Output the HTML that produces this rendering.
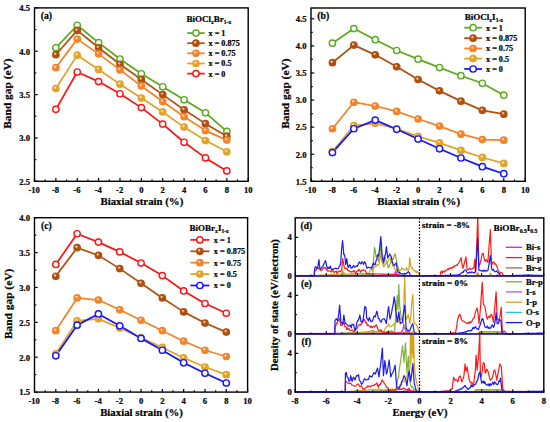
<!DOCTYPE html><html><head><meta charset="utf-8"><style>html,body{margin:0;padding:0;background:#fff;width:550px;height:422px;overflow:hidden}svg{display:block}text{stroke:#000;stroke-width:0.22px;paint-order:stroke}</style></head><body>
<svg width="550" height="422" viewBox="0 0 550 422" font-family='"Liberation Serif", serif' font-weight="bold" fill="#000">
<defs><radialGradient id="g0" cx="0.42" cy="0.40" r="0.6" fx="0.36" fy="0.32"><stop offset="0" stop-color="#fff" stop-opacity="0.85"/><stop offset="0.45" stop-color="#b0500e"/><stop offset="1" stop-color="#b0500e"/></radialGradient><radialGradient id="g1" cx="0.42" cy="0.40" r="0.6" fx="0.36" fy="0.32"><stop offset="0" stop-color="#fff" stop-opacity="0.85"/><stop offset="0.45" stop-color="#f5832a"/><stop offset="1" stop-color="#f5832a"/></radialGradient><radialGradient id="g2" cx="0.42" cy="0.40" r="0.6" fx="0.36" fy="0.32"><stop offset="0" stop-color="#fff" stop-opacity="0.85"/><stop offset="0.45" stop-color="#e3a327"/><stop offset="1" stop-color="#e3a327"/></radialGradient></defs>
<rect x="0" y="0" width="550" height="422" fill="#fff"/>
<rect x="34.5" y="7.9" width="213.7" height="173.4" fill="none" stroke="#000" stroke-width="1.4"/>
<line x1="34.5" y1="181.3" x2="34.5" y2="178.1" stroke="#000" stroke-width="1.2"/>
<text x="34.2" y="192.7" font-size="8.6" text-anchor="middle" >-10</text>
<line x1="45.19" y1="181.3" x2="45.19" y2="179.5" stroke="#000" stroke-width="1.2"/>
<line x1="55.87" y1="181.3" x2="55.87" y2="178.1" stroke="#000" stroke-width="1.2"/>
<text x="55.57" y="192.7" font-size="8.6" text-anchor="middle" >-8</text>
<line x1="66.55" y1="181.3" x2="66.55" y2="179.5" stroke="#000" stroke-width="1.2"/>
<line x1="77.24" y1="181.3" x2="77.24" y2="178.1" stroke="#000" stroke-width="1.2"/>
<text x="76.94" y="192.7" font-size="8.6" text-anchor="middle" >-6</text>
<line x1="87.92" y1="181.3" x2="87.92" y2="179.5" stroke="#000" stroke-width="1.2"/>
<line x1="98.61" y1="181.3" x2="98.61" y2="178.1" stroke="#000" stroke-width="1.2"/>
<text x="98.31" y="192.7" font-size="8.6" text-anchor="middle" >-4</text>
<line x1="109.29" y1="181.3" x2="109.29" y2="179.5" stroke="#000" stroke-width="1.2"/>
<line x1="119.98" y1="181.3" x2="119.98" y2="178.1" stroke="#000" stroke-width="1.2"/>
<text x="119.68" y="192.7" font-size="8.6" text-anchor="middle" >-2</text>
<line x1="130.66" y1="181.3" x2="130.66" y2="179.5" stroke="#000" stroke-width="1.2"/>
<line x1="141.35" y1="181.3" x2="141.35" y2="178.1" stroke="#000" stroke-width="1.2"/>
<text x="141.35" y="192.7" font-size="8.6" text-anchor="middle" >0</text>
<line x1="152.03" y1="181.3" x2="152.03" y2="179.5" stroke="#000" stroke-width="1.2"/>
<line x1="162.72" y1="181.3" x2="162.72" y2="178.1" stroke="#000" stroke-width="1.2"/>
<text x="162.72" y="192.7" font-size="8.6" text-anchor="middle" >2</text>
<line x1="173.4" y1="181.3" x2="173.4" y2="179.5" stroke="#000" stroke-width="1.2"/>
<line x1="184.09" y1="181.3" x2="184.09" y2="178.1" stroke="#000" stroke-width="1.2"/>
<text x="184.09" y="192.7" font-size="8.6" text-anchor="middle" >4</text>
<line x1="194.77" y1="181.3" x2="194.77" y2="179.5" stroke="#000" stroke-width="1.2"/>
<line x1="205.46" y1="181.3" x2="205.46" y2="178.1" stroke="#000" stroke-width="1.2"/>
<text x="205.46" y="192.7" font-size="8.6" text-anchor="middle" >6</text>
<line x1="216.14" y1="181.3" x2="216.14" y2="179.5" stroke="#000" stroke-width="1.2"/>
<line x1="226.83" y1="181.3" x2="226.83" y2="178.1" stroke="#000" stroke-width="1.2"/>
<text x="226.83" y="192.7" font-size="8.6" text-anchor="middle" >8</text>
<line x1="237.51" y1="181.3" x2="237.51" y2="179.5" stroke="#000" stroke-width="1.2"/>
<line x1="248.2" y1="181.3" x2="248.2" y2="178.1" stroke="#000" stroke-width="1.2"/>
<text x="248.2" y="192.7" font-size="8.6" text-anchor="middle" >10</text>
<line x1="34.5" y1="181.3" x2="37.7" y2="181.3" stroke="#000" stroke-width="1.2"/>
<text x="30" y="184.6" font-size="8.6" text-anchor="end" >2.5</text>
<line x1="34.5" y1="137.95" x2="37.7" y2="137.95" stroke="#000" stroke-width="1.2"/>
<text x="30" y="141.25" font-size="8.6" text-anchor="end" >3.0</text>
<line x1="34.5" y1="94.6" x2="37.7" y2="94.6" stroke="#000" stroke-width="1.2"/>
<text x="30" y="97.9" font-size="8.6" text-anchor="end" >3.5</text>
<line x1="34.5" y1="51.25" x2="37.7" y2="51.25" stroke="#000" stroke-width="1.2"/>
<text x="30" y="54.55" font-size="8.6" text-anchor="end" >4.0</text>
<line x1="34.5" y1="7.9" x2="37.7" y2="7.9" stroke="#000" stroke-width="1.2"/>
<text x="30" y="11.2" font-size="8.6" text-anchor="end" >4.5</text>
<line x1="34.5" y1="159.62" x2="36.3" y2="159.62" stroke="#000" stroke-width="1.2"/>
<line x1="34.5" y1="116.28" x2="36.3" y2="116.28" stroke="#000" stroke-width="1.2"/>
<line x1="34.5" y1="72.93" x2="36.3" y2="72.93" stroke="#000" stroke-width="1.2"/>
<line x1="34.5" y1="29.58" x2="36.3" y2="29.58" stroke="#000" stroke-width="1.2"/>
<text x="141.85" y="204.9" font-size="10.8" text-anchor="middle" >Biaxial strain (%)</text>
<text x="0" y="0" font-size="11.4" text-anchor="middle" transform="translate(11,93.6) rotate(-90)">Band gap (eV)</text>
<text x="40.7" y="19" font-size="9.8" text-anchor="start" >(a)</text>
<polyline points="55.87,47.78 77.24,25.24 98.61,42.58 119.98,59.05 141.35,73.79 162.72,86.8 184.09,99.8 205.46,112.81 226.83,131.45" fill="none" stroke="#5aab1c" stroke-width="1.75" stroke-linejoin="round"/>
<polyline points="55.87,54.72 77.24,30.44 98.61,47.78 119.98,64.25 141.35,79.43 162.72,94.6 184.09,109.77 205.46,123.64 226.83,136.22" fill="none" stroke="#b0500e" stroke-width="1.75" stroke-linejoin="round"/>
<polyline points="55.87,67.72 77.24,39.11 98.61,53.85 119.98,69.89 141.35,85.93 162.72,101.54 184.09,116.71 205.46,130.58 226.83,140.12" fill="none" stroke="#f5832a" stroke-width="1.75" stroke-linejoin="round"/>
<polyline points="55.87,88.53 77.24,55.15 98.61,69.46 119.98,84.2 141.35,98.07 162.72,111.94 184.09,127.11 205.46,140.55 226.83,151.82" fill="none" stroke="#e3a327" stroke-width="1.75" stroke-linejoin="round"/>
<polyline points="55.87,109.34 77.24,72.06 98.61,81.6 119.98,93.73 141.35,107.61 162.72,124.08 184.09,142.28 205.46,157.89 226.83,170.9" fill="none" stroke="#ff1414" stroke-width="1.75" stroke-linejoin="round"/>
<circle cx="55.87" cy="47.78" r="3.15" fill="#fff" stroke="#5aab1c" stroke-width="1.4"/>
<circle cx="77.24" cy="25.24" r="3.15" fill="#fff" stroke="#5aab1c" stroke-width="1.4"/>
<circle cx="98.61" cy="42.58" r="3.15" fill="#fff" stroke="#5aab1c" stroke-width="1.4"/>
<circle cx="119.98" cy="59.05" r="3.15" fill="#fff" stroke="#5aab1c" stroke-width="1.4"/>
<circle cx="141.35" cy="73.79" r="3.15" fill="#fff" stroke="#5aab1c" stroke-width="1.4"/>
<circle cx="162.72" cy="86.8" r="3.15" fill="#fff" stroke="#5aab1c" stroke-width="1.4"/>
<circle cx="184.09" cy="99.8" r="3.15" fill="#fff" stroke="#5aab1c" stroke-width="1.4"/>
<circle cx="205.46" cy="112.81" r="3.15" fill="#fff" stroke="#5aab1c" stroke-width="1.4"/>
<circle cx="226.83" cy="131.45" r="3.15" fill="#fff" stroke="#5aab1c" stroke-width="1.4"/>
<circle cx="55.87" cy="54.72" r="3.15" fill="url(#g0)" stroke="#b0500e" stroke-width="1.4"/>
<circle cx="77.24" cy="30.44" r="3.15" fill="url(#g0)" stroke="#b0500e" stroke-width="1.4"/>
<circle cx="98.61" cy="47.78" r="3.15" fill="url(#g0)" stroke="#b0500e" stroke-width="1.4"/>
<circle cx="119.98" cy="64.25" r="3.15" fill="url(#g0)" stroke="#b0500e" stroke-width="1.4"/>
<circle cx="141.35" cy="79.43" r="3.15" fill="url(#g0)" stroke="#b0500e" stroke-width="1.4"/>
<circle cx="162.72" cy="94.6" r="3.15" fill="url(#g0)" stroke="#b0500e" stroke-width="1.4"/>
<circle cx="184.09" cy="109.77" r="3.15" fill="url(#g0)" stroke="#b0500e" stroke-width="1.4"/>
<circle cx="205.46" cy="123.64" r="3.15" fill="url(#g0)" stroke="#b0500e" stroke-width="1.4"/>
<circle cx="226.83" cy="136.22" r="3.15" fill="url(#g0)" stroke="#b0500e" stroke-width="1.4"/>
<circle cx="55.87" cy="67.72" r="3.15" fill="url(#g1)" stroke="#f5832a" stroke-width="1.4"/>
<circle cx="77.24" cy="39.11" r="3.15" fill="url(#g1)" stroke="#f5832a" stroke-width="1.4"/>
<circle cx="98.61" cy="53.85" r="3.15" fill="url(#g1)" stroke="#f5832a" stroke-width="1.4"/>
<circle cx="119.98" cy="69.89" r="3.15" fill="url(#g1)" stroke="#f5832a" stroke-width="1.4"/>
<circle cx="141.35" cy="85.93" r="3.15" fill="url(#g1)" stroke="#f5832a" stroke-width="1.4"/>
<circle cx="162.72" cy="101.54" r="3.15" fill="url(#g1)" stroke="#f5832a" stroke-width="1.4"/>
<circle cx="184.09" cy="116.71" r="3.15" fill="url(#g1)" stroke="#f5832a" stroke-width="1.4"/>
<circle cx="205.46" cy="130.58" r="3.15" fill="url(#g1)" stroke="#f5832a" stroke-width="1.4"/>
<circle cx="226.83" cy="140.12" r="3.15" fill="url(#g1)" stroke="#f5832a" stroke-width="1.4"/>
<circle cx="55.87" cy="88.53" r="3.15" fill="url(#g2)" stroke="#e3a327" stroke-width="1.4"/>
<circle cx="77.24" cy="55.15" r="3.15" fill="url(#g2)" stroke="#e3a327" stroke-width="1.4"/>
<circle cx="98.61" cy="69.46" r="3.15" fill="url(#g2)" stroke="#e3a327" stroke-width="1.4"/>
<circle cx="119.98" cy="84.2" r="3.15" fill="url(#g2)" stroke="#e3a327" stroke-width="1.4"/>
<circle cx="141.35" cy="98.07" r="3.15" fill="url(#g2)" stroke="#e3a327" stroke-width="1.4"/>
<circle cx="162.72" cy="111.94" r="3.15" fill="url(#g2)" stroke="#e3a327" stroke-width="1.4"/>
<circle cx="184.09" cy="127.11" r="3.15" fill="url(#g2)" stroke="#e3a327" stroke-width="1.4"/>
<circle cx="205.46" cy="140.55" r="3.15" fill="url(#g2)" stroke="#e3a327" stroke-width="1.4"/>
<circle cx="226.83" cy="151.82" r="3.15" fill="url(#g2)" stroke="#e3a327" stroke-width="1.4"/>
<circle cx="55.87" cy="109.34" r="3.15" fill="#fff" stroke="#ff1414" stroke-width="1.4"/>
<circle cx="77.24" cy="72.06" r="3.15" fill="#fff" stroke="#ff1414" stroke-width="1.4"/>
<circle cx="98.61" cy="81.6" r="3.15" fill="#fff" stroke="#ff1414" stroke-width="1.4"/>
<circle cx="119.98" cy="93.73" r="3.15" fill="#fff" stroke="#ff1414" stroke-width="1.4"/>
<circle cx="141.35" cy="107.61" r="3.15" fill="#fff" stroke="#ff1414" stroke-width="1.4"/>
<circle cx="162.72" cy="124.08" r="3.15" fill="#fff" stroke="#ff1414" stroke-width="1.4"/>
<circle cx="184.09" cy="142.28" r="3.15" fill="#fff" stroke="#ff1414" stroke-width="1.4"/>
<circle cx="205.46" cy="157.89" r="3.15" fill="#fff" stroke="#ff1414" stroke-width="1.4"/>
<circle cx="226.83" cy="170.9" r="3.15" fill="#fff" stroke="#ff1414" stroke-width="1.4"/>
<text x="186.5" y="22.2" font-size="9" text-anchor="start">BiOCl<tspan font-size="5.6" dy="2.0">x</tspan><tspan dy="-2.0">Br</tspan><tspan font-size="5.6" dy="2.0">1-x</tspan></text>
<line x1="187.2" y1="33.1" x2="204.7" y2="33.1" stroke="#5aab1c" stroke-width="1.75"/>
<circle cx="195.95" cy="33.1" r="3.15" fill="#fff" stroke="#5aab1c" stroke-width="1.4"/>
<text x="208.5" y="36" font-size="8.2" text-anchor="start" >x = 1</text>
<line x1="187.2" y1="43.2" x2="204.7" y2="43.2" stroke="#b0500e" stroke-width="1.75"/>
<circle cx="195.95" cy="43.2" r="3.15" fill="url(#g0)" stroke="#b0500e" stroke-width="1.4"/>
<text x="208.5" y="46.1" font-size="8.2" text-anchor="start" >x = 0.875</text>
<line x1="187.2" y1="53.3" x2="204.7" y2="53.3" stroke="#f5832a" stroke-width="1.75"/>
<circle cx="195.95" cy="53.3" r="3.15" fill="url(#g1)" stroke="#f5832a" stroke-width="1.4"/>
<text x="208.5" y="56.2" font-size="8.2" text-anchor="start" >x = 0.75</text>
<line x1="187.2" y1="63.5" x2="204.7" y2="63.5" stroke="#e3a327" stroke-width="1.75"/>
<circle cx="195.95" cy="63.5" r="3.15" fill="url(#g2)" stroke="#e3a327" stroke-width="1.4"/>
<text x="208.5" y="66.4" font-size="8.2" text-anchor="start" >x = 0.5</text>
<line x1="187.2" y1="73.6" x2="204.7" y2="73.6" stroke="#ff1414" stroke-width="1.75"/>
<circle cx="195.95" cy="73.6" r="3.15" fill="#fff" stroke="#ff1414" stroke-width="1.4"/>
<text x="208.5" y="76.5" font-size="8.2" text-anchor="start" >x = 0</text>
<rect x="311" y="8" width="214.2" height="173.3" fill="none" stroke="#000" stroke-width="1.4"/>
<line x1="311" y1="181.3" x2="311" y2="178.1" stroke="#000" stroke-width="1.2"/>
<text x="310.7" y="192.7" font-size="8.6" text-anchor="middle" >-10</text>
<line x1="321.71" y1="181.3" x2="321.71" y2="179.5" stroke="#000" stroke-width="1.2"/>
<line x1="332.42" y1="181.3" x2="332.42" y2="178.1" stroke="#000" stroke-width="1.2"/>
<text x="332.12" y="192.7" font-size="8.6" text-anchor="middle" >-8</text>
<line x1="343.13" y1="181.3" x2="343.13" y2="179.5" stroke="#000" stroke-width="1.2"/>
<line x1="353.84" y1="181.3" x2="353.84" y2="178.1" stroke="#000" stroke-width="1.2"/>
<text x="353.54" y="192.7" font-size="8.6" text-anchor="middle" >-6</text>
<line x1="364.55" y1="181.3" x2="364.55" y2="179.5" stroke="#000" stroke-width="1.2"/>
<line x1="375.26" y1="181.3" x2="375.26" y2="178.1" stroke="#000" stroke-width="1.2"/>
<text x="374.96" y="192.7" font-size="8.6" text-anchor="middle" >-4</text>
<line x1="385.97" y1="181.3" x2="385.97" y2="179.5" stroke="#000" stroke-width="1.2"/>
<line x1="396.68" y1="181.3" x2="396.68" y2="178.1" stroke="#000" stroke-width="1.2"/>
<text x="396.38" y="192.7" font-size="8.6" text-anchor="middle" >-2</text>
<line x1="407.39" y1="181.3" x2="407.39" y2="179.5" stroke="#000" stroke-width="1.2"/>
<line x1="418.1" y1="181.3" x2="418.1" y2="178.1" stroke="#000" stroke-width="1.2"/>
<text x="418.1" y="192.7" font-size="8.6" text-anchor="middle" >0</text>
<line x1="428.81" y1="181.3" x2="428.81" y2="179.5" stroke="#000" stroke-width="1.2"/>
<line x1="439.52" y1="181.3" x2="439.52" y2="178.1" stroke="#000" stroke-width="1.2"/>
<text x="439.52" y="192.7" font-size="8.6" text-anchor="middle" >2</text>
<line x1="450.23" y1="181.3" x2="450.23" y2="179.5" stroke="#000" stroke-width="1.2"/>
<line x1="460.94" y1="181.3" x2="460.94" y2="178.1" stroke="#000" stroke-width="1.2"/>
<text x="460.94" y="192.7" font-size="8.6" text-anchor="middle" >4</text>
<line x1="471.65" y1="181.3" x2="471.65" y2="179.5" stroke="#000" stroke-width="1.2"/>
<line x1="482.36" y1="181.3" x2="482.36" y2="178.1" stroke="#000" stroke-width="1.2"/>
<text x="482.36" y="192.7" font-size="8.6" text-anchor="middle" >6</text>
<line x1="493.07" y1="181.3" x2="493.07" y2="179.5" stroke="#000" stroke-width="1.2"/>
<line x1="503.78" y1="181.3" x2="503.78" y2="178.1" stroke="#000" stroke-width="1.2"/>
<text x="503.78" y="192.7" font-size="8.6" text-anchor="middle" >8</text>
<line x1="514.49" y1="181.3" x2="514.49" y2="179.5" stroke="#000" stroke-width="1.2"/>
<line x1="525.2" y1="181.3" x2="525.2" y2="178.1" stroke="#000" stroke-width="1.2"/>
<text x="525.2" y="192.7" font-size="8.6" text-anchor="middle" >10</text>
<line x1="311" y1="181.3" x2="314.2" y2="181.3" stroke="#000" stroke-width="1.2"/>
<text x="306.5" y="184.6" font-size="8.6" text-anchor="end" >1.5</text>
<line x1="311" y1="154.22" x2="314.2" y2="154.22" stroke="#000" stroke-width="1.2"/>
<text x="306.5" y="157.52" font-size="8.6" text-anchor="end" >2.0</text>
<line x1="311" y1="127.14" x2="314.2" y2="127.14" stroke="#000" stroke-width="1.2"/>
<text x="306.5" y="130.44" font-size="8.6" text-anchor="end" >2.5</text>
<line x1="311" y1="100.07" x2="314.2" y2="100.07" stroke="#000" stroke-width="1.2"/>
<text x="306.5" y="103.37" font-size="8.6" text-anchor="end" >3.0</text>
<line x1="311" y1="72.99" x2="314.2" y2="72.99" stroke="#000" stroke-width="1.2"/>
<text x="306.5" y="76.29" font-size="8.6" text-anchor="end" >3.5</text>
<line x1="311" y1="45.91" x2="314.2" y2="45.91" stroke="#000" stroke-width="1.2"/>
<text x="306.5" y="49.21" font-size="8.6" text-anchor="end" >4.0</text>
<line x1="311" y1="18.83" x2="314.2" y2="18.83" stroke="#000" stroke-width="1.2"/>
<text x="306.5" y="22.13" font-size="8.6" text-anchor="end" >4.5</text>
<line x1="311" y1="167.76" x2="312.8" y2="167.76" stroke="#000" stroke-width="1.2"/>
<line x1="311" y1="140.68" x2="312.8" y2="140.68" stroke="#000" stroke-width="1.2"/>
<line x1="311" y1="113.6" x2="312.8" y2="113.6" stroke="#000" stroke-width="1.2"/>
<line x1="311" y1="86.53" x2="312.8" y2="86.53" stroke="#000" stroke-width="1.2"/>
<line x1="311" y1="59.45" x2="312.8" y2="59.45" stroke="#000" stroke-width="1.2"/>
<line x1="311" y1="32.37" x2="312.8" y2="32.37" stroke="#000" stroke-width="1.2"/>
<text x="418.6" y="204.9" font-size="10.8" text-anchor="middle" >Biaxial strain (%)</text>
<text x="0" y="0" font-size="11.4" text-anchor="middle" transform="translate(289.2,93.65) rotate(-90)">Band gap (eV)</text>
<text x="317.2" y="19" font-size="9.8" text-anchor="start" >(b)</text>
<polyline points="332.42,43.2 353.84,28.58 375.26,39.68 396.68,50.51 418.1,59.18 439.52,67.57 460.94,75.7 482.36,83.28 503.78,95.19" fill="none" stroke="#5aab1c" stroke-width="1.75" stroke-linejoin="round"/>
<polyline points="332.42,62.7 353.84,45.1 375.26,54.85 396.68,66.76 418.1,79.49 439.52,90.86 460.94,101.15 482.36,110.36 503.78,114.15" fill="none" stroke="#b0500e" stroke-width="1.75" stroke-linejoin="round"/>
<polyline points="332.42,128.77 353.84,102.23 375.26,106.02 396.68,111.44 418.1,119.02 439.52,126.06 460.94,134.18 482.36,139.6 503.78,140.14" fill="none" stroke="#f5832a" stroke-width="1.75" stroke-linejoin="round"/>
<polyline points="332.42,151.51 353.84,125.52 375.26,123.35 396.68,128.77 418.1,136.35 439.52,142.85 460.94,150.43 482.36,157.47 503.78,163.43" fill="none" stroke="#e3a327" stroke-width="1.75" stroke-linejoin="round"/>
<polyline points="332.42,152.6 353.84,128.77 375.26,120.1 396.68,129.31 418.1,139.06 439.52,148.81 460.94,158.01 482.36,166.68 503.78,173.72" fill="none" stroke="#1414ff" stroke-width="1.75" stroke-linejoin="round"/>
<circle cx="332.42" cy="43.2" r="3.15" fill="#fff" stroke="#5aab1c" stroke-width="1.4"/>
<circle cx="353.84" cy="28.58" r="3.15" fill="#fff" stroke="#5aab1c" stroke-width="1.4"/>
<circle cx="375.26" cy="39.68" r="3.15" fill="#fff" stroke="#5aab1c" stroke-width="1.4"/>
<circle cx="396.68" cy="50.51" r="3.15" fill="#fff" stroke="#5aab1c" stroke-width="1.4"/>
<circle cx="418.1" cy="59.18" r="3.15" fill="#fff" stroke="#5aab1c" stroke-width="1.4"/>
<circle cx="439.52" cy="67.57" r="3.15" fill="#fff" stroke="#5aab1c" stroke-width="1.4"/>
<circle cx="460.94" cy="75.7" r="3.15" fill="#fff" stroke="#5aab1c" stroke-width="1.4"/>
<circle cx="482.36" cy="83.28" r="3.15" fill="#fff" stroke="#5aab1c" stroke-width="1.4"/>
<circle cx="503.78" cy="95.19" r="3.15" fill="#fff" stroke="#5aab1c" stroke-width="1.4"/>
<circle cx="332.42" cy="62.7" r="3.15" fill="url(#g0)" stroke="#b0500e" stroke-width="1.4"/>
<circle cx="353.84" cy="45.1" r="3.15" fill="url(#g0)" stroke="#b0500e" stroke-width="1.4"/>
<circle cx="375.26" cy="54.85" r="3.15" fill="url(#g0)" stroke="#b0500e" stroke-width="1.4"/>
<circle cx="396.68" cy="66.76" r="3.15" fill="url(#g0)" stroke="#b0500e" stroke-width="1.4"/>
<circle cx="418.1" cy="79.49" r="3.15" fill="url(#g0)" stroke="#b0500e" stroke-width="1.4"/>
<circle cx="439.52" cy="90.86" r="3.15" fill="url(#g0)" stroke="#b0500e" stroke-width="1.4"/>
<circle cx="460.94" cy="101.15" r="3.15" fill="url(#g0)" stroke="#b0500e" stroke-width="1.4"/>
<circle cx="482.36" cy="110.36" r="3.15" fill="url(#g0)" stroke="#b0500e" stroke-width="1.4"/>
<circle cx="503.78" cy="114.15" r="3.15" fill="url(#g0)" stroke="#b0500e" stroke-width="1.4"/>
<circle cx="332.42" cy="128.77" r="3.15" fill="url(#g1)" stroke="#f5832a" stroke-width="1.4"/>
<circle cx="353.84" cy="102.23" r="3.15" fill="url(#g1)" stroke="#f5832a" stroke-width="1.4"/>
<circle cx="375.26" cy="106.02" r="3.15" fill="url(#g1)" stroke="#f5832a" stroke-width="1.4"/>
<circle cx="396.68" cy="111.44" r="3.15" fill="url(#g1)" stroke="#f5832a" stroke-width="1.4"/>
<circle cx="418.1" cy="119.02" r="3.15" fill="url(#g1)" stroke="#f5832a" stroke-width="1.4"/>
<circle cx="439.52" cy="126.06" r="3.15" fill="url(#g1)" stroke="#f5832a" stroke-width="1.4"/>
<circle cx="460.94" cy="134.18" r="3.15" fill="url(#g1)" stroke="#f5832a" stroke-width="1.4"/>
<circle cx="482.36" cy="139.6" r="3.15" fill="url(#g1)" stroke="#f5832a" stroke-width="1.4"/>
<circle cx="503.78" cy="140.14" r="3.15" fill="url(#g1)" stroke="#f5832a" stroke-width="1.4"/>
<circle cx="332.42" cy="151.51" r="3.15" fill="url(#g2)" stroke="#e3a327" stroke-width="1.4"/>
<circle cx="353.84" cy="125.52" r="3.15" fill="url(#g2)" stroke="#e3a327" stroke-width="1.4"/>
<circle cx="375.26" cy="123.35" r="3.15" fill="url(#g2)" stroke="#e3a327" stroke-width="1.4"/>
<circle cx="396.68" cy="128.77" r="3.15" fill="url(#g2)" stroke="#e3a327" stroke-width="1.4"/>
<circle cx="418.1" cy="136.35" r="3.15" fill="url(#g2)" stroke="#e3a327" stroke-width="1.4"/>
<circle cx="439.52" cy="142.85" r="3.15" fill="url(#g2)" stroke="#e3a327" stroke-width="1.4"/>
<circle cx="460.94" cy="150.43" r="3.15" fill="url(#g2)" stroke="#e3a327" stroke-width="1.4"/>
<circle cx="482.36" cy="157.47" r="3.15" fill="url(#g2)" stroke="#e3a327" stroke-width="1.4"/>
<circle cx="503.78" cy="163.43" r="3.15" fill="url(#g2)" stroke="#e3a327" stroke-width="1.4"/>
<circle cx="332.42" cy="152.6" r="3.15" fill="#fff" stroke="#1414ff" stroke-width="1.4"/>
<circle cx="353.84" cy="128.77" r="3.15" fill="#fff" stroke="#1414ff" stroke-width="1.4"/>
<circle cx="375.26" cy="120.1" r="3.15" fill="#fff" stroke="#1414ff" stroke-width="1.4"/>
<circle cx="396.68" cy="129.31" r="3.15" fill="#fff" stroke="#1414ff" stroke-width="1.4"/>
<circle cx="418.1" cy="139.06" r="3.15" fill="#fff" stroke="#1414ff" stroke-width="1.4"/>
<circle cx="439.52" cy="148.81" r="3.15" fill="#fff" stroke="#1414ff" stroke-width="1.4"/>
<circle cx="460.94" cy="158.01" r="3.15" fill="#fff" stroke="#1414ff" stroke-width="1.4"/>
<circle cx="482.36" cy="166.68" r="3.15" fill="#fff" stroke="#1414ff" stroke-width="1.4"/>
<circle cx="503.78" cy="173.72" r="3.15" fill="#fff" stroke="#1414ff" stroke-width="1.4"/>
<text x="464.8" y="19.9" font-size="9" text-anchor="start">BiOCl<tspan font-size="5.6" dy="2.0">x</tspan><tspan dy="-2.0">I</tspan><tspan font-size="5.6" dy="2.0">1-x</tspan></text>
<line x1="464.2" y1="27.7" x2="482" y2="27.7" stroke="#5aab1c" stroke-width="1.75"/>
<circle cx="473.1" cy="27.7" r="3.15" fill="#fff" stroke="#5aab1c" stroke-width="1.4"/>
<text x="486" y="30.6" font-size="8.2" text-anchor="start" >x = 1</text>
<line x1="464.2" y1="38.2" x2="482" y2="38.2" stroke="#b0500e" stroke-width="1.75"/>
<circle cx="473.1" cy="38.2" r="3.15" fill="url(#g0)" stroke="#b0500e" stroke-width="1.4"/>
<text x="486" y="41.1" font-size="8.2" text-anchor="start" >x = 0.875</text>
<line x1="464.2" y1="48.5" x2="482" y2="48.5" stroke="#f5832a" stroke-width="1.75"/>
<circle cx="473.1" cy="48.5" r="3.15" fill="url(#g1)" stroke="#f5832a" stroke-width="1.4"/>
<text x="486" y="51.4" font-size="8.2" text-anchor="start" >x = 0.75</text>
<line x1="464.2" y1="58.6" x2="482" y2="58.6" stroke="#e3a327" stroke-width="1.75"/>
<circle cx="473.1" cy="58.6" r="3.15" fill="url(#g2)" stroke="#e3a327" stroke-width="1.4"/>
<text x="486" y="61.5" font-size="8.2" text-anchor="start" >x = 0.5</text>
<line x1="464.2" y1="69" x2="482" y2="69" stroke="#1414ff" stroke-width="1.75"/>
<circle cx="473.1" cy="69" r="3.15" fill="#fff" stroke="#1414ff" stroke-width="1.4"/>
<text x="486" y="71.9" font-size="8.2" text-anchor="start" >x = 0</text>
<rect x="34.5" y="217.7" width="213.1" height="174.4" fill="none" stroke="#000" stroke-width="1.4"/>
<line x1="34.5" y1="392.1" x2="34.5" y2="388.9" stroke="#000" stroke-width="1.2"/>
<text x="34.2" y="403.5" font-size="8.6" text-anchor="middle" >-10</text>
<line x1="45.16" y1="392.1" x2="45.16" y2="390.3" stroke="#000" stroke-width="1.2"/>
<line x1="55.81" y1="392.1" x2="55.81" y2="388.9" stroke="#000" stroke-width="1.2"/>
<text x="55.51" y="403.5" font-size="8.6" text-anchor="middle" >-8</text>
<line x1="66.47" y1="392.1" x2="66.47" y2="390.3" stroke="#000" stroke-width="1.2"/>
<line x1="77.12" y1="392.1" x2="77.12" y2="388.9" stroke="#000" stroke-width="1.2"/>
<text x="76.82" y="403.5" font-size="8.6" text-anchor="middle" >-6</text>
<line x1="87.78" y1="392.1" x2="87.78" y2="390.3" stroke="#000" stroke-width="1.2"/>
<line x1="98.43" y1="392.1" x2="98.43" y2="388.9" stroke="#000" stroke-width="1.2"/>
<text x="98.13" y="403.5" font-size="8.6" text-anchor="middle" >-4</text>
<line x1="109.08" y1="392.1" x2="109.08" y2="390.3" stroke="#000" stroke-width="1.2"/>
<line x1="119.74" y1="392.1" x2="119.74" y2="388.9" stroke="#000" stroke-width="1.2"/>
<text x="119.44" y="403.5" font-size="8.6" text-anchor="middle" >-2</text>
<line x1="130.39" y1="392.1" x2="130.39" y2="390.3" stroke="#000" stroke-width="1.2"/>
<line x1="141.05" y1="392.1" x2="141.05" y2="388.9" stroke="#000" stroke-width="1.2"/>
<text x="141.05" y="403.5" font-size="8.6" text-anchor="middle" >0</text>
<line x1="151.7" y1="392.1" x2="151.7" y2="390.3" stroke="#000" stroke-width="1.2"/>
<line x1="162.36" y1="392.1" x2="162.36" y2="388.9" stroke="#000" stroke-width="1.2"/>
<text x="162.36" y="403.5" font-size="8.6" text-anchor="middle" >2</text>
<line x1="173.01" y1="392.1" x2="173.01" y2="390.3" stroke="#000" stroke-width="1.2"/>
<line x1="183.67" y1="392.1" x2="183.67" y2="388.9" stroke="#000" stroke-width="1.2"/>
<text x="183.67" y="403.5" font-size="8.6" text-anchor="middle" >4</text>
<line x1="194.32" y1="392.1" x2="194.32" y2="390.3" stroke="#000" stroke-width="1.2"/>
<line x1="204.98" y1="392.1" x2="204.98" y2="388.9" stroke="#000" stroke-width="1.2"/>
<text x="204.98" y="403.5" font-size="8.6" text-anchor="middle" >6</text>
<line x1="215.63" y1="392.1" x2="215.63" y2="390.3" stroke="#000" stroke-width="1.2"/>
<line x1="226.29" y1="392.1" x2="226.29" y2="388.9" stroke="#000" stroke-width="1.2"/>
<text x="226.29" y="403.5" font-size="8.6" text-anchor="middle" >8</text>
<line x1="236.94" y1="392.1" x2="236.94" y2="390.3" stroke="#000" stroke-width="1.2"/>
<line x1="247.6" y1="392.1" x2="247.6" y2="388.9" stroke="#000" stroke-width="1.2"/>
<text x="247.6" y="403.5" font-size="8.6" text-anchor="middle" >10</text>
<line x1="34.5" y1="392.1" x2="37.7" y2="392.1" stroke="#000" stroke-width="1.2"/>
<text x="30" y="395.4" font-size="8.6" text-anchor="end" >1.5</text>
<line x1="34.5" y1="357.22" x2="37.7" y2="357.22" stroke="#000" stroke-width="1.2"/>
<text x="30" y="360.52" font-size="8.6" text-anchor="end" >2.0</text>
<line x1="34.5" y1="322.34" x2="37.7" y2="322.34" stroke="#000" stroke-width="1.2"/>
<text x="30" y="325.64" font-size="8.6" text-anchor="end" >2.5</text>
<line x1="34.5" y1="287.46" x2="37.7" y2="287.46" stroke="#000" stroke-width="1.2"/>
<text x="30" y="290.76" font-size="8.6" text-anchor="end" >3.0</text>
<line x1="34.5" y1="252.58" x2="37.7" y2="252.58" stroke="#000" stroke-width="1.2"/>
<text x="30" y="255.88" font-size="8.6" text-anchor="end" >3.5</text>
<line x1="34.5" y1="217.7" x2="37.7" y2="217.7" stroke="#000" stroke-width="1.2"/>
<text x="30" y="221" font-size="8.6" text-anchor="end" >4.0</text>
<line x1="34.5" y1="374.66" x2="36.3" y2="374.66" stroke="#000" stroke-width="1.2"/>
<line x1="34.5" y1="339.78" x2="36.3" y2="339.78" stroke="#000" stroke-width="1.2"/>
<line x1="34.5" y1="304.9" x2="36.3" y2="304.9" stroke="#000" stroke-width="1.2"/>
<line x1="34.5" y1="270.02" x2="36.3" y2="270.02" stroke="#000" stroke-width="1.2"/>
<line x1="34.5" y1="235.14" x2="36.3" y2="235.14" stroke="#000" stroke-width="1.2"/>
<text x="141.55" y="415.7" font-size="10.8" text-anchor="middle" >Biaxial strain (%)</text>
<text x="0" y="0" font-size="11.4" text-anchor="middle" transform="translate(11.9,303.9) rotate(-90)">Band gap (eV)</text>
<text x="40.9" y="229.3" font-size="9.8" text-anchor="start" >(c)</text>
<polyline points="55.81,264.44 77.12,233.74 98.43,242.12 119.74,251.88 141.05,263.04 162.36,275.6 183.67,290.95 204.98,303.5 226.29,313.27" fill="none" stroke="#ff1414" stroke-width="1.75" stroke-linejoin="round"/>
<polyline points="55.81,276.3 77.12,247.7 98.43,255.37 119.74,268.62 141.05,283.27 162.36,297.92 183.67,311.88 204.98,323.04 226.29,332.11" fill="none" stroke="#b0500e" stroke-width="1.75" stroke-linejoin="round"/>
<polyline points="55.81,330.71 77.12,297.92 98.43,300.02 119.74,309.78 141.05,320.25 162.36,330.71 183.67,341.18 204.98,350.24 226.29,356.52" fill="none" stroke="#f5832a" stroke-width="1.75" stroke-linejoin="round"/>
<polyline points="55.81,353.73 77.12,320.94 98.43,318.85 119.74,327.92 141.05,337.69 162.36,347.45 183.67,357.92 204.98,366.99 226.29,374.66" fill="none" stroke="#e3a327" stroke-width="1.75" stroke-linejoin="round"/>
<polyline points="55.81,355.82 77.12,325.13 98.43,313.97 119.74,325.83 141.05,338.38 162.36,350.24 183.67,362.8 204.98,373.26 226.29,383.03" fill="none" stroke="#1414ff" stroke-width="1.75" stroke-linejoin="round"/>
<circle cx="55.81" cy="264.44" r="3.15" fill="#fff" stroke="#ff1414" stroke-width="1.4"/>
<circle cx="77.12" cy="233.74" r="3.15" fill="#fff" stroke="#ff1414" stroke-width="1.4"/>
<circle cx="98.43" cy="242.12" r="3.15" fill="#fff" stroke="#ff1414" stroke-width="1.4"/>
<circle cx="119.74" cy="251.88" r="3.15" fill="#fff" stroke="#ff1414" stroke-width="1.4"/>
<circle cx="141.05" cy="263.04" r="3.15" fill="#fff" stroke="#ff1414" stroke-width="1.4"/>
<circle cx="162.36" cy="275.6" r="3.15" fill="#fff" stroke="#ff1414" stroke-width="1.4"/>
<circle cx="183.67" cy="290.95" r="3.15" fill="#fff" stroke="#ff1414" stroke-width="1.4"/>
<circle cx="204.98" cy="303.5" r="3.15" fill="#fff" stroke="#ff1414" stroke-width="1.4"/>
<circle cx="226.29" cy="313.27" r="3.15" fill="#fff" stroke="#ff1414" stroke-width="1.4"/>
<circle cx="55.81" cy="276.3" r="3.15" fill="url(#g0)" stroke="#b0500e" stroke-width="1.4"/>
<circle cx="77.12" cy="247.7" r="3.15" fill="url(#g0)" stroke="#b0500e" stroke-width="1.4"/>
<circle cx="98.43" cy="255.37" r="3.15" fill="url(#g0)" stroke="#b0500e" stroke-width="1.4"/>
<circle cx="119.74" cy="268.62" r="3.15" fill="url(#g0)" stroke="#b0500e" stroke-width="1.4"/>
<circle cx="141.05" cy="283.27" r="3.15" fill="url(#g0)" stroke="#b0500e" stroke-width="1.4"/>
<circle cx="162.36" cy="297.92" r="3.15" fill="url(#g0)" stroke="#b0500e" stroke-width="1.4"/>
<circle cx="183.67" cy="311.88" r="3.15" fill="url(#g0)" stroke="#b0500e" stroke-width="1.4"/>
<circle cx="204.98" cy="323.04" r="3.15" fill="url(#g0)" stroke="#b0500e" stroke-width="1.4"/>
<circle cx="226.29" cy="332.11" r="3.15" fill="url(#g0)" stroke="#b0500e" stroke-width="1.4"/>
<circle cx="55.81" cy="330.71" r="3.15" fill="url(#g1)" stroke="#f5832a" stroke-width="1.4"/>
<circle cx="77.12" cy="297.92" r="3.15" fill="url(#g1)" stroke="#f5832a" stroke-width="1.4"/>
<circle cx="98.43" cy="300.02" r="3.15" fill="url(#g1)" stroke="#f5832a" stroke-width="1.4"/>
<circle cx="119.74" cy="309.78" r="3.15" fill="url(#g1)" stroke="#f5832a" stroke-width="1.4"/>
<circle cx="141.05" cy="320.25" r="3.15" fill="url(#g1)" stroke="#f5832a" stroke-width="1.4"/>
<circle cx="162.36" cy="330.71" r="3.15" fill="url(#g1)" stroke="#f5832a" stroke-width="1.4"/>
<circle cx="183.67" cy="341.18" r="3.15" fill="url(#g1)" stroke="#f5832a" stroke-width="1.4"/>
<circle cx="204.98" cy="350.24" r="3.15" fill="url(#g1)" stroke="#f5832a" stroke-width="1.4"/>
<circle cx="226.29" cy="356.52" r="3.15" fill="url(#g1)" stroke="#f5832a" stroke-width="1.4"/>
<circle cx="55.81" cy="353.73" r="3.15" fill="url(#g2)" stroke="#e3a327" stroke-width="1.4"/>
<circle cx="77.12" cy="320.94" r="3.15" fill="url(#g2)" stroke="#e3a327" stroke-width="1.4"/>
<circle cx="98.43" cy="318.85" r="3.15" fill="url(#g2)" stroke="#e3a327" stroke-width="1.4"/>
<circle cx="119.74" cy="327.92" r="3.15" fill="url(#g2)" stroke="#e3a327" stroke-width="1.4"/>
<circle cx="141.05" cy="337.69" r="3.15" fill="url(#g2)" stroke="#e3a327" stroke-width="1.4"/>
<circle cx="162.36" cy="347.45" r="3.15" fill="url(#g2)" stroke="#e3a327" stroke-width="1.4"/>
<circle cx="183.67" cy="357.92" r="3.15" fill="url(#g2)" stroke="#e3a327" stroke-width="1.4"/>
<circle cx="204.98" cy="366.99" r="3.15" fill="url(#g2)" stroke="#e3a327" stroke-width="1.4"/>
<circle cx="226.29" cy="374.66" r="3.15" fill="url(#g2)" stroke="#e3a327" stroke-width="1.4"/>
<circle cx="55.81" cy="355.82" r="3.15" fill="#fff" stroke="#1414ff" stroke-width="1.4"/>
<circle cx="77.12" cy="325.13" r="3.15" fill="#fff" stroke="#1414ff" stroke-width="1.4"/>
<circle cx="98.43" cy="313.97" r="3.15" fill="#fff" stroke="#1414ff" stroke-width="1.4"/>
<circle cx="119.74" cy="325.83" r="3.15" fill="#fff" stroke="#1414ff" stroke-width="1.4"/>
<circle cx="141.05" cy="338.38" r="3.15" fill="#fff" stroke="#1414ff" stroke-width="1.4"/>
<circle cx="162.36" cy="350.24" r="3.15" fill="#fff" stroke="#1414ff" stroke-width="1.4"/>
<circle cx="183.67" cy="362.8" r="3.15" fill="#fff" stroke="#1414ff" stroke-width="1.4"/>
<circle cx="204.98" cy="373.26" r="3.15" fill="#fff" stroke="#1414ff" stroke-width="1.4"/>
<circle cx="226.29" cy="383.03" r="3.15" fill="#fff" stroke="#1414ff" stroke-width="1.4"/>
<text x="189.6" y="230.8" font-size="9" text-anchor="start">BiOBr<tspan font-size="5.6" dy="2.0">x</tspan><tspan dy="-2.0">I</tspan><tspan font-size="5.6" dy="2.0">1-x</tspan></text>
<line x1="190.4" y1="239.9" x2="209.4" y2="239.9" stroke="#ff1414" stroke-width="1.75"/>
<circle cx="199.9" cy="239.9" r="3.15" fill="#fff" stroke="#ff1414" stroke-width="1.4"/>
<text x="213.8" y="242.8" font-size="8.2" text-anchor="start" >x = 1</text>
<line x1="190.4" y1="251.3" x2="209.4" y2="251.3" stroke="#b0500e" stroke-width="1.75"/>
<circle cx="199.9" cy="251.3" r="3.15" fill="url(#g0)" stroke="#b0500e" stroke-width="1.4"/>
<text x="213.8" y="254.2" font-size="8.2" text-anchor="start" >x = 0.875</text>
<line x1="190.4" y1="262.7" x2="209.4" y2="262.7" stroke="#f5832a" stroke-width="1.75"/>
<circle cx="199.9" cy="262.7" r="3.15" fill="url(#g1)" stroke="#f5832a" stroke-width="1.4"/>
<text x="213.8" y="265.6" font-size="8.2" text-anchor="start" >x = 0.75</text>
<line x1="190.4" y1="274.1" x2="209.4" y2="274.1" stroke="#e3a327" stroke-width="1.75"/>
<circle cx="199.9" cy="274.1" r="3.15" fill="url(#g2)" stroke="#e3a327" stroke-width="1.4"/>
<text x="213.8" y="277" font-size="8.2" text-anchor="start" >x = 0.5</text>
<line x1="190.4" y1="285.5" x2="209.4" y2="285.5" stroke="#1414ff" stroke-width="1.75"/>
<circle cx="199.9" cy="285.5" r="3.15" fill="#fff" stroke="#1414ff" stroke-width="1.4"/>
<text x="213.8" y="288.4" font-size="8.2" text-anchor="start" >x = 0</text>
<defs><clipPath id="dclip"><rect x="295.2" y="217.9" width="248.6" height="174.4"/></clipPath></defs>
<g clip-path="url(#dclip)">
<polyline points="295.2,275.53 380.66,275.53 381.54,275.48 382.43,275.41 383.32,275.34 384.21,275.27 385.1,275.2 385.98,275.13 386.87,275.06 387.65,275.02 388.42,274.97 389.2,274.92 389.98,274.87 390.76,274.82 391.53,274.77 392.31,274.73 393.09,274.68 393.86,274.63 394.64,274.58 395.42,271.19 396.19,272.7 396.97,274.58 397.75,274.77 398.52,274.97 399.3,275.16 400.08,275.36 400.85,275.53 419.5,275.53 543.8,275.53" fill="none" stroke="#ff00ff" stroke-width="1.2" stroke-linejoin="round"/>
<polyline points="295.2,275.53 341.81,275.53 342.59,271.19 343.37,274.8 344.14,275.06 344.94,275.05 345.74,275.04 346.54,275.02 347.34,275.01 348.14,275 348.93,274.98 349.73,274.97 350.53,274.96 351.33,274.94 352.13,274.93 352.93,274.92 353.72,274.9 354.52,274.89 355.32,274.88 356.12,274.86 356.92,274.85 357.72,274.84 358.52,274.82 359.31,274.81 360.11,274.8 360.91,274.78 361.71,274.77 362.51,274.75 363.31,274.74 364.1,274.73 364.9,274.71 365.7,274.7 366.5,274.69 367.3,274.67 368.1,274.66 368.9,274.65 369.69,274.63 370.49,274.62 371.29,274.61 372.09,274.59 372.89,274.58 373.35,262.86 374.44,247.35 375.22,250 376,256.66 377.24,255.69 378.48,261.5 379.31,257.53 380.14,251.94 380.97,244.74 381.98,255.5 382.99,264.41 384.23,255.69 385.32,258.64 386.41,261.5 387.23,262.43 388.06,267.08 388.89,267.31 390.06,264.03 391.22,261.5 392,258.27 392.78,259.1 393.55,258.99 394.33,254.47 395.11,253.94 396.35,259.56 397.23,264.94 398.11,267.13 398.99,269.74 400.39,275.53 419.5,275.53 476.99,275.53 477.77,273.13 478.54,275.53 543.8,275.53" fill="none" stroke="#7fb13a" stroke-width="1.2" stroke-linejoin="round"/>
<polyline points="295.2,275.53 313.84,275.53 314.64,275.51 315.44,275.47 316.24,275.42 317.04,275.38 317.84,275.34 318.64,275.3 319.44,275.26 320.24,275.22 321.04,275.18 321.84,275.13 322.63,275.09 323.43,275.05 324.23,275.01 325.03,274.97 325.83,274.93 326.63,274.88 327.43,274.84 328.23,274.8 329.03,274.76 329.83,274.72 330.63,274.68 331.42,274.64 332.22,274.59 333.02,274.55 333.82,274.51 334.62,274.47 335.42,274.43 336.22,274.39 337.02,274.34 337.82,274.3 338.62,274.26 339.42,274.22 340.21,274.18 341.01,274.14 341.81,274.1 342.59,270.22 343.37,273.15 344.14,272.64 344.92,274.1 345.73,274.08 346.54,274.05 347.35,274.03 348.16,274.01 348.97,273.99 349.78,273.97 350.59,273.95 351.4,273.93 352.21,273.91 353.02,273.89 353.83,273.87 354.64,273.85 355.44,273.83 356.25,273.81 357.06,273.79 357.87,273.77 358.68,273.75 359.49,273.73 360.3,273.71 361.09,273.71 361.89,273.71 362.68,273.71 363.47,273.71 364.26,273.71 365.06,273.71 365.85,273.71 366.64,273.71 367.43,273.71 368.23,273.71 369.24,273.22 370.25,269.74 371.28,269.28 372.32,270.6 373.35,267.12 374.2,267.97 375.04,266.97 375.88,264.39 376.73,266.34 377.57,264.39 378.41,264.83 379.26,263.44 380.5,253.26 381.74,261.79 382.75,262.76 383.76,267.12 384.77,264.74 385.78,263.44 386.68,263.88 387.59,261.54 388.49,260.3 389.39,258.86 390.29,257.92 391.12,261.62 391.95,262.49 392.78,265.76 393.66,266.7 394.54,268.54 395.42,269.74 396.19,269.46 396.97,271.66 397.75,269.87 398.52,270.95 399.3,270.41 400.08,270.47 400.85,270.6 401.63,267.9 402.41,269.03 403.19,268.38 404.07,269.89 404.95,269.48 405.83,269.74 406.64,267.45 407.46,269.91 408.27,270.18 409.09,268.38 409.71,257.62 410.95,267.12 411.73,268.12 412.51,267.58 413.28,270.29 414.06,270.18 414.84,271.19 415.62,271.18 416.39,272.89 417.17,270.98 417.95,272.78 418.72,273.13 419.5,275.53 475.43,275.53 476.6,274.1 477.77,272.64 478.54,274.1 479.32,275.53 489.42,275.53 490.35,273.13 491.75,275.53 543.8,275.53" fill="none" stroke="#d9a21c" stroke-width="1.2" stroke-linejoin="round"/>
<polyline points="295.2,275.53 314.16,275.53 314.78,270.8 315.62,270.63 316.46,269.3 317.29,267.33 318.13,268.63 318.97,268.28 319.9,269.51 320.84,270.7 321.77,270.04 322.7,269.17 323.63,267.77 324.57,268.08 325.5,267.51 326.66,270.08 327.83,271.19 328.61,271.05 329.38,271.02 330.16,270.83 330.94,271.8 331.71,271.68 332.49,269.22 333.27,271.53 334.04,272.77 334.82,271.52 335.6,271.75 336.37,271.1 337.15,273.83 337.93,271.31 338.7,271.67 339.48,271.1 340.26,271.75 341.04,271.06 341.81,269.25 342.59,258.59 343.37,262.39 344.14,266.83 345.05,268.41 345.96,268.84 346.86,268.32 347.77,270.58 348.67,270.59 349.58,271.19 350.44,271.9 351.29,272.05 352.14,271.36 353,272.03 353.85,270.27 354.71,271.51 355.56,273.85 356.42,271.55 357.27,270.66 358.13,271.19 358.9,269.25 359.79,270.39 360.68,272.26 361.57,270.22 362.46,270.28 363.34,269.75 364.23,270.46 365.12,270.41 365.97,271.78 366.83,273.61 367.64,273.64 368.45,273.67 369.27,273.7 370.08,273.73 370.9,273.75 371.71,273.78 372.52,273.81 373.34,273.84 374.15,273.87 374.96,273.9 375.78,273.92 376.59,273.95 377.4,273.98 378.22,274.01 379.03,274.04 379.84,274.07 380.66,274.1 381.45,274.12 382.24,274.14 383.03,274.16 383.82,274.18 384.61,274.21 385.4,274.23 386.19,274.25 386.98,274.27 387.78,274.29 388.57,274.32 389.36,274.34 390.15,274.36 390.94,274.38 391.73,274.4 392.52,274.43 393.31,274.45 394.1,274.47 394.89,274.49 395.69,274.51 396.48,274.54 397.27,274.56 398.06,274.58 398.99,274.97 399.92,275.36 400.85,275.53 419.5,275.53 440.32,275.53 440.63,272.45 441.42,271.11 442.21,273.41 443.01,271.22 443.8,270.98 444.59,272.1 445.38,270.31 446.17,270.54 446.96,269.98 447.76,268.77 448.55,269.62 449.34,267.87 450.13,268.19 450.92,268.47 451.71,267.67 452.51,267.97 453.3,266.64 454.09,267.18 454.88,265.56 455.67,265.68 456.46,264.94 457.26,265.47 458.03,263.86 458.81,263.13 459.59,261.16 460.36,259.37 461.14,257.62 462.07,264.55 463,268.28 463.99,264.42 464.97,260.84 465.96,256.95 467.2,269.74 468.04,269.46 468.87,269.53 469.71,268.14 470.54,269.32 471.38,269.16 472.21,268.67 473.05,268.09 473.88,268.28 474.66,259.27 475.75,271.67 476.76,243.38 477.77,215.9 478.85,266.83 479.86,264.36 480.87,260.53 482.04,254.22 483.2,253.07 483.98,257.66 484.76,260.53 485.53,261.38 486.31,259.51 487.09,260.67 487.87,262.47 488.69,250.87 489.52,240.23 490.35,229.53 491.44,262.47 492.28,264.13 493.12,261.98 493.96,262 494.79,264.19 495.63,263.92 497.19,267.31 497.96,270.18 498.74,271.2 499.52,274.48 500.68,272.54 501.85,272.64 502.63,274.1 503.4,275.53 543.8,275.53" fill="none" stroke="#ff1a1a" stroke-width="1.2" stroke-linejoin="round"/>
<polyline points="295.2,275.53 314.16,275.53 314.78,267.8 315.76,266.62 316.75,268.78 317.73,267.31 318.97,259.56 319.75,267.8 320.68,269.15 321.61,267.31 322.62,267.01 323.63,264.41 324.57,262.58 325.5,260.53 326.9,266.83 327.73,269.01 328.55,267.4 329.38,268.28 330.31,265.98 331.25,269.23 332.18,269.41 333.11,269.34 334.04,268.77 334.94,268.43 335.85,268.39 336.75,268.61 337.65,268.91 338.55,268.28 339.56,266.1 340.57,264.41 341.58,249.52 342.59,240.48 343.83,254.72 344.61,254.72 345.7,264.41 346.78,258.59 347.72,266.34 348.55,267.37 349.37,264.95 350.2,265.11 351.03,268.01 351.86,268.24 352.69,266.83 353.62,265.44 354.55,267.12 355.49,266.73 356.42,265.77 357.35,266.34 358.75,262.86 359.53,261.94 360.3,263.83 361.12,263.74 361.93,261.73 362.75,262.73 363.56,264.41 364.5,261.74 365.43,262.86 366.83,268.28 367.81,267.62 368.8,267.31 369.78,267.8 370.71,267.42 371.64,268.28 372.5,265.51 373.35,262.86 374.29,264.48 375.22,264.41 376.03,260.89 376.83,258.97 377.64,254.63 378.45,256.14 379.26,251.33 380.81,236.5 382.21,256.66 382.99,259.42 383.76,262.86 384.64,256.65 385.52,253.86 386.41,246.68 387.65,257.92 388.66,256.1 389.67,253.94 391.22,256.66 392.21,261.76 393.19,264.22 394.17,265.76 395.18,264.05 396.19,262.86 397.13,268.63 398.06,272.35 398.93,272.5 399.8,272.87 400.67,273.43 401.54,273.75 402.41,274.1 403.24,273.88 404.08,273.66 404.91,273.37 405.75,274.19 406.58,273.13 407.42,272.79 408.25,271.57 409.09,272.35 410.49,275.53 419.5,275.53 440.32,275.53 442.81,275.53 443.61,275.52 444.41,275.5 445.21,275.47 446.02,275.44 446.82,275.41 447.62,275.39 448.43,275.36 449.23,275.33 450.03,275.31 450.83,275.28 451.64,275.25 452.44,275.23 453.24,275.2 454.05,275.17 454.85,275.15 455.65,275.12 456.45,275.09 457.26,275.06 458.14,274.74 459.02,274.42 459.9,274.1 460.76,273.9 461.63,272.67 462.49,272.02 463.36,272.32 464.23,270.27 465.09,270.02 465.96,270.22 466.81,271.77 467.67,273.13 468.44,273.24 469.22,272.51 470,271.96 470.77,272.74 471.55,271.96 472.33,272.2 473.1,272.31 473.88,273.06 474.66,272.07 475.43,272.16 476.6,256.16 477.77,238.25 478.85,270.22 479.72,270.1 480.59,270.69 481.46,270.69 482.33,271.24 483.2,270.22 483.98,271.45 484.76,270.3 485.53,270.6 486.31,271.16 487.09,270.79 487.87,270.7 488.69,266.44 489.52,260.39 490.35,255.69 491.75,269.25 492.53,270.25 493.3,269.37 494.08,270.86 494.86,271.56 495.63,271.67 496.67,270.98 497.71,272.48 498.74,273.13 499.52,274.34 500.29,275.53 512.72,275.53 513.5,275.52 514.28,275.5 515.06,275.48 515.83,275.45 516.61,275.43 517.39,275.4 518.16,275.38 518.94,275.36 519.72,275.33 520.49,275.31 521.27,275.28 522.05,275.26 522.82,275.23 523.6,275.21 524.38,275.19 525.15,275.16 525.93,275.14 526.71,275.11 527.49,275.09 528.26,275.06 529.04,275.09 529.82,275.11 530.59,275.14 531.37,275.16 532.15,275.19 532.92,275.21 533.7,275.23 534.48,275.26 535.25,275.28 536.03,275.31 536.81,275.33 537.58,275.36 538.36,275.38 539.14,275.4 539.92,275.43 540.69,275.45 541.47,275.48 542.25,275.5 543.02,275.52 543.8,275.53" fill="none" stroke="#1a1aee" stroke-width="1.2" stroke-linejoin="round"/>
</g>
<line x1="295.2" y1="237.28" x2="298.2" y2="237.28" stroke="#000" stroke-width="1.2"/>
<line x1="295.2" y1="256.66" x2="296.8" y2="256.66" stroke="#000" stroke-width="1.2"/>
<text x="289.7" y="279.03" font-size="8.6" text-anchor="middle" >0</text>
<text x="289.7" y="240.28" font-size="8.6" text-anchor="middle" >4</text>
<g clip-path="url(#dclip)">
<polyline points="295.2,333.53 400.85,333.06 401.89,331.1 402.93,329.21 403.96,325.12 405.05,328.12 406.14,331.13 406.94,331.19 407.74,331.82 408.53,332.16 409.33,332.51 410.13,332.86 410.93,333.2 411.73,333.53 419.5,333.53 543.8,333.53" fill="none" stroke="#ff00ff" stroke-width="1.2" stroke-linejoin="round"/>
<polyline points="295.2,333.53 334.98,333.53 335.78,333.51 336.57,333.48 337.37,333.45 338.17,333.41 338.97,333.38 339.77,333.34 340.57,333.31 341.37,333.27 342.17,333.24 342.97,333.2 343.77,333.17 344.56,333.13 345.36,333.1 346.16,333.06 346.96,333.03 347.76,333 348.56,332.96 349.36,332.93 350.16,332.89 350.96,332.86 351.76,332.82 352.56,332.79 353.35,332.75 354.15,332.72 354.95,332.68 355.75,332.65 356.55,332.61 357.35,332.58 358.13,332.53 358.9,332.48 359.68,332.43 360.46,332.39 361.23,332.34 362.01,332.29 362.79,332.24 363.56,332.19 364.34,332.14 365.12,332.1 365.9,332 366.67,331.9 367.45,331.8 368.23,331.71 369,331.61 369.78,332.02 370.56,331.47 371.33,330.61 372.11,331.06 372.89,331.13 373.66,330.27 374.44,331.48 375.22,332.22 376,331.34 376.77,331.61 377.55,331.71 378.33,331.8 379.1,331.9 379.88,332 380.66,332.1 381.48,332.04 382.3,331.98 383.12,331.92 383.95,331.87 384.77,331.81 385.59,331.75 386.41,331.7 387.24,331.64 388.06,331.59 388.88,330.47 389.7,331.74 390.53,331.58 391.35,330.62 392.17,332.18 392.99,331.32 393.82,331.7 394.64,331.13 395.52,318.39 396.4,308.39 397.28,295.47 398.06,309.81 398.84,284.33 399.61,304.97 400.62,313.32 401.63,319.21 402.8,321.19 403.96,326.28 405.05,329.38 406.14,332.58 406.92,332.67 407.71,332.75 408.5,332.84 409.28,332.92 410.07,333.01 410.85,333.09 411.64,333.18 412.43,333.26 413.21,333.35 414,333.43 414.78,333.52 415.57,333.53 416.36,333.53 417.14,333.53 417.93,333.53 418.71,333.53 419.5,333.53 478.54,333.53 479.32,333.19 480.1,332.82 480.87,332.46 481.65,332.1 482.46,332.1 483.27,332.1 484.07,332.1 484.88,332.1 485.69,332.1 486.5,332.1 487.31,332.1 488.11,332.1 488.92,332.1 489.73,332.1 490.54,332.1 491.35,332.1 492.15,332.1 492.96,332.1 493.77,332.1 494.58,332.1 495.39,332.1 496.19,332.1 497,332.1 497.81,332.1 498.62,332.1 499.42,332.1 500.23,332.1 501.04,332.1 501.85,332.1 502.63,333.06 503.4,333.53 543.8,333.53" fill="none" stroke="#7fb13a" stroke-width="1.2" stroke-linejoin="round"/>
<polyline points="295.2,333.53 334.98,333.53 335.78,333.53 336.57,333.53 337.37,333.53 338.17,333.53 338.97,333.53 339.77,333.53 340.57,333.53 341.37,333.53 342.17,333.53 342.97,333.53 343.77,333.53 344.56,333.53 345.36,333.53 346.16,333.53 346.96,333.51 347.76,333.48 348.56,333.45 349.36,333.41 350.16,333.38 350.96,333.34 351.76,333.31 352.56,333.27 353.35,333.24 354.15,333.2 354.95,333.17 355.75,333.13 356.55,333.1 357.35,333.06 358.13,333.02 358.9,332.97 359.68,332.92 360.46,332.87 361.23,332.82 362.01,332.77 362.79,332.73 363.56,332.68 364.34,332.63 365.12,332.58 365.9,332.53 366.67,332.48 367.45,332.43 368.23,332.39 369,332.34 369.78,332.29 370.56,332.24 371.33,332.19 372.11,332.14 372.89,332.1 373.66,332.07 374.44,332.05 375.22,332.03 376,332.01 376.77,331.99 377.55,331.97 378.33,331.95 379.1,331.93 379.88,331.91 380.66,331.89 381.43,331.87 382.21,331.85 382.99,331.83 383.76,331.8 384.57,329.96 385.37,328.69 386.17,326.85 386.97,326.79 387.78,325.33 388.58,323.67 389.56,326.22 390.55,326.41 391.53,326.57 392.41,325.03 393.29,325.06 394.17,323.67 395.21,323.42 396.25,321.81 397.28,320.66 398.27,321.76 399.25,317.18 400.23,319.21 401.22,319.54 402.2,319.28 403.19,320.66 403.96,297.46 404.74,276.87 405.83,319.21 406.66,318.99 407.48,316.2 408.31,314.75 409.87,323.67 410.85,314.97 411.83,302.12 412.82,294.7 413.91,322.21 414.71,323.31 415.52,323.88 416.33,324.56 417.14,326.61 417.95,328.12 418.72,330.23 419.5,333.53 476.99,333.53 478.02,332.9 479.06,332.26 480.1,331.61 480.9,331.61 481.71,331.61 482.51,331.61 483.32,331.61 484.12,331.61 484.93,331.61 485.74,331.61 486.54,331.61 487.35,331.61 488.15,331.61 488.96,331.61 489.76,331.61 490.57,331.61 491.38,331.61 492.18,331.61 492.99,331.61 493.79,331.61 494.6,331.61 495.4,331.61 496.21,331.61 497.01,331.61 497.82,331.61 498.63,331.61 499.43,331.61 500.24,331.61 501.04,331.61 501.85,331.61 502.63,332.82 503.4,333.53 543.8,333.53" fill="none" stroke="#d9a21c" stroke-width="1.2" stroke-linejoin="round"/>
<polyline points="295.2,333.53 334.82,333.53 334.98,326.86 335.75,326.02 336.53,323.22 337.31,323.28 338.08,319.9 338.86,320.65 339.64,318.14 340.88,325.6 341.86,325.48 342.85,323.84 343.83,321.92 345.08,326.86 345.91,326.51 346.74,329.54 347.58,327.86 348.41,329.6 349.24,328.98 350.08,330.33 350.91,330.63 351.74,330.05 352.58,330.06 353.41,331.65 354.24,331.8 355.04,330.15 355.84,329.21 356.64,329.14 357.44,327.9 358.24,325.37 359.04,324.91 359.84,324.44 360.66,325.21 361.49,323.36 362.32,322.74 363.15,321.33 363.98,319.27 364.81,319.98 365.64,322.88 366.47,322.34 367.29,325.6 368.09,325.3 368.89,325.46 369.69,325.98 370.49,327.34 371.29,326.07 372.09,327.83 372.89,327.25 373.78,326.02 374.67,327.08 375.57,325.46 376.46,324.93 377.39,328.1 378.33,330.16 379.1,330.78 379.88,331 380.66,329.68 381.43,330.8 382.21,331.89 382.99,332.23 383.76,332.58 384.57,332.6 385.38,332.62 386.19,332.64 387,332.66 387.8,332.68 388.61,332.7 389.42,332.72 390.23,332.74 391.04,332.75 391.84,332.77 392.65,332.79 393.46,332.81 394.27,332.83 395.08,332.85 395.88,332.87 396.69,332.89 397.5,332.91 398.31,332.93 399.11,332.95 399.92,332.97 400.73,332.99 401.54,333.01 402.35,333.03 403.15,333.05 403.96,333.06 404.74,333.11 405.52,333.16 406.29,333.21 407.07,333.26 407.85,333.31 408.62,333.36 409.4,333.4 410.18,333.45 410.95,333.5 411.73,333.53 412.51,333.53 413.28,333.53 414.06,333.53 414.84,333.53 415.62,333.53 416.39,333.53 417.17,333.53 417.95,333.53 418.72,333.53 419.5,333.53 445.29,333.53 446.08,333.53 446.87,333.53 447.66,333.53 448.45,333.45 449.24,333.36 450.03,333.26 450.81,333.16 451.6,333.06 452.39,332.97 453.18,332.87 453.97,332.77 454.76,332.68 455.55,332.58 456.63,326.74 457.72,319.21 458.81,315.66 459.9,314.07 460.99,318.05 462.07,320.66 462.93,320.91 463.78,321.35 464.64,321.6 465.49,322.67 466.35,323.41 467.2,323.67 468.07,322.55 468.94,323.68 469.81,321.62 470.68,322.62 471.55,322.21 472.44,319.81 473.34,318.24 474.23,317.84 475.12,313.3 476.21,310.15 477.3,308.07 478.15,314.54 479.01,323.67 479.86,314.72 480.72,304.39 481.49,292.65 482.27,282.2 483.36,304.39 484.76,305.94 485.59,310.52 486.41,315.78 487.24,319.21 488.18,317.19 489.11,316.21 490.04,317.62 490.97,314.43 491.9,314.75 493.46,322.21 494.34,311.89 495.22,301.46 496.1,291.79 497.19,319.21 498.12,319.21 499.05,320.66 500.14,315.33 501.23,307.39 502.31,331.03 503.09,331.51 503.87,331.05 504.65,331.03 505.58,332.29 506.51,333.53 543.8,333.53" fill="none" stroke="#ff1a1a" stroke-width="1.2" stroke-linejoin="round"/>
<polyline points="295.2,333.53 334.82,333.53 334.98,320.66 336.22,318.72 337.62,320.66 338.63,314.88 339.64,305.06 340.88,321.92 341.81,322.96 342.74,324.34 343.83,315.04 345.08,323.08 346.01,323.72 346.94,324.29 347.87,325.78 348.8,326.28 349.61,325.26 350.41,325.41 351.21,327.84 352.02,324.22 352.82,324.62 353.62,324.34 354.55,329.13 355.49,330.55 356.73,323.08 357.51,320.77 358.28,320.19 359.06,318.34 359.84,315.04 361.08,321.92 362.01,322.04 362.94,320.66 363.88,314.01 364.81,306.32 366.05,308.16 366.67,318.14 367.54,319.04 368.41,320.9 369.28,317.46 370.15,319.67 371.02,321.83 371.89,321.41 372.76,320.55 373.63,317.18 374.5,315.95 375.37,316.98 376.77,311.07 377.55,313.73 378.33,318.53 379.26,318.92 380.19,321.25 381.12,322.21 382.11,319.58 383.09,319.07 384.07,318.53 385.16,320.24 386.25,323.67 387.03,318.1 387.8,311.78 388.58,306.61 389.98,319.21 391.53,313.3 392.41,307.57 393.29,303.95 394.17,296.92 395.03,302.1 395.88,311.75 397.28,322.21 398.84,311.75 400.23,323.67 401.32,322.73 402.41,322.21 403.19,315.67 403.96,310.51 404.74,305.06 406.14,328.12 407.12,329.84 408.11,330.25 409.09,331.03 410.02,329.97 410.95,327.51 411.89,325.12 412.82,323.67 414.22,332.58 415.1,332.82 415.98,333.06 416.86,333.31 417.74,333.53 418.62,333.53 419.5,333.53 435.04,333.53 455.24,333.53 456.01,333.45 456.79,333.36 457.57,333.26 458.34,333.16 459.12,333.06 459.9,332.97 460.67,332.87 461.45,332.77 462.23,332.68 463,332.58 463.78,332.36 464.56,332.13 465.34,331.91 466.11,331.69 466.89,331.61 467.67,330.84 468.44,330.61 469.22,330.96 470,330.96 470.77,330.35 471.55,330.7 472.33,328.96 473.1,327.52 473.88,328.7 474.66,327.35 475.43,326.67 476.47,328.4 477.51,328.94 478.54,329.67 479.38,326.28 480.22,324.99 481.06,321.72 481.9,319.19 482.74,318.53 483.75,322.5 484.76,326.67 485.63,327.3 486.5,327.57 487.37,325.91 488.24,328.48 489.11,327.35 489.96,328.41 490.82,327.72 491.67,325.54 492.53,324.89 493.38,327.33 494.24,325.89 495.17,320.87 496.1,312.72 497.19,323.67 498.12,323.77 499.05,321.14 499.98,319.77 500.92,320.66 502,332.58 502.99,333 503.97,333.42 504.96,333.53 520.49,333.53 521.27,333.53 522.05,333.52 522.82,333.5 523.6,333.48 524.38,333.47 525.15,333.45 525.93,333.44 526.71,333.42 527.49,333.4 528.26,333.39 529.04,333.37 529.82,333.36 530.59,333.34 531.37,333.32 532.15,333.31 532.92,333.29 533.7,333.27 534.48,333.26 535.25,333.24 536.03,333.23 536.81,333.21 537.58,333.19 538.36,333.18 539.14,333.16 539.92,333.15 540.69,333.13 541.47,333.11 542.25,333.1 543.02,333.08 543.8,333.06" fill="none" stroke="#1a1aee" stroke-width="1.2" stroke-linejoin="round"/>
</g>
<line x1="295.2" y1="295.28" x2="298.2" y2="295.28" stroke="#000" stroke-width="1.2"/>
<line x1="295.2" y1="314.66" x2="296.8" y2="314.66" stroke="#000" stroke-width="1.2"/>
<text x="289.7" y="337.03" font-size="8.6" text-anchor="middle" >0</text>
<text x="289.7" y="298.28" font-size="8.6" text-anchor="middle" >4</text>
<g clip-path="url(#dclip)">
<polyline points="295.2,391.63 407.07,391.63 408.08,389.9 409.09,388.16 410.02,389.9 410.95,391.63 419.5,391.63 543.8,391.63" fill="none" stroke="#ff00ff" stroke-width="1.2" stroke-linejoin="round"/>
<polyline points="295.2,391.63 345.39,391.63 346.17,391.63 346.96,391.62 347.74,391.61 348.53,391.59 349.31,391.58 350.1,391.57 350.89,391.55 351.67,391.54 352.46,391.52 353.24,391.51 354.03,391.5 354.82,391.48 355.6,391.47 356.39,391.46 357.17,391.44 357.96,391.43 358.74,391.41 359.53,391.4 360.32,391.39 361.1,391.37 361.89,391.36 362.67,391.34 363.46,391.33 364.24,391.32 365.03,391.3 365.82,391.29 366.6,391.28 367.39,391.26 368.17,391.25 368.96,391.23 369.74,391.22 370.53,391.21 371.32,391.19 372.1,391.18 372.89,391.16 373.66,391.12 374.44,391.07 375.22,391.02 376,390.97 376.77,390.92 377.55,390.87 378.33,390.83 379.1,390.78 379.88,390.73 380.66,390.68 381.43,390.63 382.21,390.58 382.99,390.53 383.76,390.49 384.54,390.44 385.32,390.39 386.09,390.34 386.87,390.29 387.65,390.24 388.42,390.2 389.2,390.1 389.98,390 390.76,389.9 391.53,389.81 392.31,389.71 393.09,389.39 393.86,390.27 394.64,390.42 395.42,388.49 396.19,389.23 397,383.69 397.8,379.1 398.6,376.8 399.4,368.55 400.21,363.47 401.01,357.74 402.56,345.82 403.96,362.49 405.52,342.91 406.91,372.56 408.31,356.28 409.09,377.02 409.97,382.08 410.85,385.84 411.73,387.29 412.51,386.39 413.28,388.62 414.06,390.16 414.84,389.13 415.62,389.71 416.39,390.2 417.17,390.68 417.95,391.16 418.72,391.63 419.5,391.63 473.88,391.63 474.66,391.29 475.43,390.92 476.21,390.56 476.99,390.2 477.79,390.2 478.59,390.2 479.39,390.2 480.2,390.2 481,390.2 481.8,390.2 482.6,390.2 483.4,390.2 484.21,390.2 485.01,390.2 485.81,390.2 486.61,390.2 487.41,390.2 488.22,390.2 489.02,390.2 489.82,390.2 490.62,390.2 491.42,390.2 492.23,390.2 493.03,390.2 493.83,390.2 494.63,390.2 495.43,390.2 496.24,390.2 497.04,390.2 497.84,390.2 498.64,390.2 499.44,390.2 500.24,390.2 501.05,390.2 501.85,390.2 502.63,391.16 503.4,391.63 543.8,391.63" fill="none" stroke="#7fb13a" stroke-width="1.2" stroke-linejoin="round"/>
<polyline points="295.2,391.63 345.39,391.63 346.17,391.59 346.96,391.53 347.74,391.47 348.53,391.42 349.31,391.36 350.1,391.3 350.89,391.24 351.67,391.18 352.46,391.13 353.24,391.07 354.03,391.01 354.82,390.95 355.6,390.89 356.39,390.84 357.17,390.78 357.96,390.72 358.74,390.66 359.53,390.6 360.32,390.54 361.1,390.49 361.89,390.43 362.67,390.37 363.46,390.31 364.24,390.25 365.03,390.2 365.82,390.14 366.6,390.08 367.39,390.02 368.17,389.96 368.96,389.9 369.74,389.85 370.53,389.79 371.32,389.73 372.1,389.62 372.89,389.61 373.66,389.42 374.44,389.89 375.22,389.21 376,389.91 376.77,390.22 377.55,390.2 378.33,388.28 379.1,389.24 379.88,389.19 380.66,389.33 381.43,389.48 382.21,390.04 382.99,389.79 383.76,390.15 384.54,389.84 385.32,389.72 386.09,389.93 386.87,389.69 387.65,389.62 388.42,389.64 389.2,389.43 389.98,390.17 390.76,388.74 391.53,389.91 392.31,388.98 393.09,389.82 393.86,390.6 394.64,389.55 395.42,390.61 396.19,389.61 396.97,388.03 397.75,387.69 398.52,386.76 399.3,386.11 400.08,384.71 400.85,384.99 401.63,381.94 402.41,382.55 403.19,381.73 403.96,381.72 404.74,379.93 405.59,378.9 406.45,377.03 407.3,374.7 408.16,372.05 409.01,372.23 409.87,369.56 410.49,332 410.95,363.07 411.42,332 412.04,353.38 412.51,332 412.97,358.22 413.6,332 414.22,362.49 414.99,372.91 415.77,378.47 416.6,382.14 417.43,385.47 418.26,388.84 419.5,391.63 473.88,391.63 474.66,390.68 475.43,389.71 476.24,389.71 477.04,389.71 477.84,389.71 478.64,389.71 479.44,389.71 480.24,389.71 481.04,389.71 481.84,389.71 482.64,389.71 483.44,389.71 484.24,389.71 485.04,389.71 485.84,389.71 486.64,389.71 487.44,389.71 488.24,389.71 489.04,389.71 489.84,389.71 490.64,389.71 491.44,389.71 492.24,389.71 493.04,389.71 493.84,389.71 494.64,389.71 495.45,389.71 496.25,389.71 497.05,389.71 497.85,389.71 498.65,389.71 499.45,389.71 500.25,389.71 501.05,389.71 501.85,389.71 502.63,390.92 503.4,391.63 543.8,391.63" fill="none" stroke="#d9a21c" stroke-width="1.2" stroke-linejoin="round"/>
<polyline points="295.2,391.63 345.23,391.63 345.39,382.15 346.27,381.33 347.15,382.5 348.03,382.93 349.06,383.75 350.1,382.97 351.13,383.7 351.91,385.08 352.69,385.24 353.47,385.51 354.24,385.93 355.02,386.28 355.8,386.17 356.57,385.03 357.35,384.38 358.13,383.95 358.9,384.8 359.68,386.55 360.46,386.61 361.49,385.75 362.53,388.39 363.56,388.84 364.34,389.6 365.12,388.1 365.9,387.78 366.67,387.39 367.6,385.94 368.54,386.72 369.47,385.89 370.4,386.87 371.33,385.93 372.11,385.25 372.89,385.67 373.66,385.51 374.44,384.58 375.22,384.38 376,384.09 376.77,382.93 377.55,384.77 378.33,387.39 379.13,384.7 379.94,385.08 380.75,383.6 381.56,381.07 382.37,379.93 383.3,382.31 384.23,382.93 385.32,384.51 386.41,387.39 387.3,387.4 388.19,388.49 389.09,390.01 389.98,390.39 390.83,390.32 391.67,390.25 392.52,390.18 393.37,390.11 394.22,390.04 395.06,389.97 395.91,389.9 396.76,389.83 397.61,389.76 398.45,388.64 399.3,389.61 400.08,389.42 400.85,388.83 401.63,389.56 402.41,388.98 403.19,388.19 403.96,388.16 404.74,388.54 405.52,389.97 406.29,389.92 407.07,389.24 407.85,390.02 408.62,390.39 409.46,390.52 410.3,390.66 411.13,390.79 411.97,390.93 412.81,391.06 413.64,391.19 414.48,391.33 415.32,391.46 416.15,391.6 416.99,391.63 417.83,391.63 418.66,391.63 419.5,391.63 440.32,391.36 441.11,391.3 441.9,391.23 442.69,391.17 443.48,391.11 444.28,391.05 445.07,390.99 445.86,390.93 446.65,390.86 447.44,390.8 448.23,390.74 449.02,390.68 449.8,390.32 450.57,389.95 451.35,388.97 452.13,389.23 453.53,377.31 454.93,380.31 455.91,379.45 456.89,380.44 457.88,381.77 459.04,376.92 460.21,375.86 460.99,378.3 461.76,381.77 462.85,379.66 463.94,375.86 465.02,363.94 466.11,371.4 467.2,366.94 468.05,373.04 468.91,378.76 470,381.68 471.08,383.22 471.86,382.09 472.64,384.62 473.42,386.22 474.43,377.86 475.43,369.85 476.06,355.02 477.14,369.85 478.23,359.48 478.85,350.47 479.79,332 480.41,377.31 481.49,375.86 482.35,369.51 483.2,362.49 484.45,363.94 485.07,372.85 485.85,372.42 486.62,369.09 487.4,369.85 488.38,372.74 489.37,377.2 490.35,380.31 491.13,379.47 491.9,378.39 492.68,377.31 493.69,371.51 494.7,369.85 495.79,374.67 496.88,380.31 497.86,373.79 498.84,369.3 499.83,363.94 501.38,366.94 502.78,389.13 503.87,390.24 504.96,391.36 543.8,391.63" fill="none" stroke="#ff1a1a" stroke-width="1.2" stroke-linejoin="round"/>
<polyline points="295.2,391.63 345.23,391.63 345.39,373.34 346.24,372.46 347.1,377.02 348.08,377.7 349.06,381.31 350.05,380.02 350.67,375.57 352.07,381.48 353.47,377.02 355.02,380.02 356.42,375.57 357.51,375.86 358.59,374.79 359.37,380.02 360.46,381.67 361.55,384.38 362.63,383.21 363.72,380.02 364.7,378.58 365.69,380 366.67,380.02 367.66,379.25 368.64,379.34 369.62,375.57 370.71,376.63 371.8,377.02 372.89,374.85 373.98,372.56 375.37,374.02 376.46,370.81 377.55,368.1 378.95,377.02 379.8,370.18 380.66,364.64 381.51,356.43 382.37,348.05 383.45,375.57 384.85,360.64 385.63,366.72 386.41,374.02 387.34,371.45 388.27,365.53 389.2,359.97 390.76,377.02 391.84,374.02 392.93,372.56 394.02,369.36 395.11,365.1 395.88,376.19 396.66,387.39 397.75,387.85 398.84,388.84 399.82,386.58 400.8,385.3 401.79,381.48 402.87,379.68 403.96,375.57 405.52,378.47 406.91,385.93 408,377.31 409.09,371.11 409.87,375.6 410.64,381.48 411.73,373.55 412.82,363.65 414.22,382.93 415.3,387.4 416.39,391.16 417.17,391.41 417.95,391.63 418.72,391.63 419.5,391.63 453.53,391.63 454.33,391.6 455.13,391.26 455.94,390.92 456.74,390.58 457.54,390.24 458.34,389.9 459.28,390.08 460.21,388.77 461.14,389.3 462.07,388.05 463,387.68 464.01,386.78 465.02,385.45 465.91,386.78 466.79,387.97 467.67,389.13 468.54,389.45 469.41,387.76 470.29,387.82 471.16,384.86 472.04,386.79 472.91,386.25 473.78,385.36 474.66,384.67 475.64,384.21 476.63,381.48 477.61,380.31 478.78,374.04 479.94,372.08 480.8,377.84 481.65,383.22 483.2,380.99 483.98,383.36 484.76,381.46 485.53,384.13 486.31,384.67 487.24,385.2 488.18,383.94 489.11,386.1 490.04,383.54 490.97,385.45 491.9,383.99 492.84,382.25 493.77,384.51 494.7,381.77 495.53,382.86 496.36,384.09 497.19,384.67 498,384.2 498.82,381.18 499.63,381.29 500.45,378.08 501.85,389.13 502.63,390.53 503.4,391.63 520.49,391.63 521.27,391.63 522.05,391.62 522.82,391.6 523.6,391.58 524.38,391.57 525.15,391.55 525.93,391.54 526.71,391.52 527.49,391.5 528.26,391.49 529.04,391.47 529.82,391.46 530.59,391.44 531.37,391.42 532.15,391.41 532.92,391.39 533.7,391.37 534.48,391.36 535.25,391.34 536.03,391.33 536.81,391.31 537.58,391.29 538.36,391.28 539.14,391.26 539.92,391.25 540.69,391.23 541.47,391.21 542.25,391.2 543.02,391.18 543.8,391.16" fill="none" stroke="#1a1aee" stroke-width="1.2" stroke-linejoin="round"/>
</g>
<line x1="295.2" y1="353.38" x2="298.2" y2="353.38" stroke="#000" stroke-width="1.2"/>
<line x1="295.2" y1="372.76" x2="296.8" y2="372.76" stroke="#000" stroke-width="1.2"/>
<text x="289.7" y="395.13" font-size="8.6" text-anchor="middle" >0</text>
<text x="289.7" y="356.38" font-size="8.6" text-anchor="middle" >4</text>
<rect x="295.2" y="217.9" width="248.6" height="174.4" fill="none" stroke="#000" stroke-width="1.4"/>
<line x1="295.9" y1="276.03" x2="543.1" y2="276.03" stroke="#14148c" stroke-width="1.6"/>
<line x1="295.2" y1="276.03" x2="295.2" y2="273.03" stroke="#000" stroke-width="1.1"/>
<line x1="310.74" y1="276.03" x2="310.74" y2="274.43" stroke="#000" stroke-width="1.1"/>
<line x1="326.27" y1="276.03" x2="326.27" y2="273.03" stroke="#000" stroke-width="1.1"/>
<line x1="341.81" y1="276.03" x2="341.81" y2="274.43" stroke="#000" stroke-width="1.1"/>
<line x1="357.35" y1="276.03" x2="357.35" y2="273.03" stroke="#000" stroke-width="1.1"/>
<line x1="372.89" y1="276.03" x2="372.89" y2="274.43" stroke="#000" stroke-width="1.1"/>
<line x1="388.42" y1="276.03" x2="388.42" y2="273.03" stroke="#000" stroke-width="1.1"/>
<line x1="403.96" y1="276.03" x2="403.96" y2="274.43" stroke="#000" stroke-width="1.1"/>
<line x1="419.5" y1="276.03" x2="419.5" y2="273.03" stroke="#000" stroke-width="1.1"/>
<line x1="435.04" y1="276.03" x2="435.04" y2="274.43" stroke="#000" stroke-width="1.1"/>
<line x1="450.57" y1="276.03" x2="450.57" y2="273.03" stroke="#000" stroke-width="1.1"/>
<line x1="466.11" y1="276.03" x2="466.11" y2="274.43" stroke="#000" stroke-width="1.1"/>
<line x1="481.65" y1="276.03" x2="481.65" y2="273.03" stroke="#000" stroke-width="1.1"/>
<line x1="497.19" y1="276.03" x2="497.19" y2="274.43" stroke="#000" stroke-width="1.1"/>
<line x1="512.72" y1="276.03" x2="512.72" y2="273.03" stroke="#000" stroke-width="1.1"/>
<line x1="528.26" y1="276.03" x2="528.26" y2="274.43" stroke="#000" stroke-width="1.1"/>
<line x1="543.8" y1="276.03" x2="543.8" y2="273.03" stroke="#000" stroke-width="1.1"/>
<line x1="295.9" y1="334.03" x2="543.1" y2="334.03" stroke="#14148c" stroke-width="1.6"/>
<line x1="295.2" y1="334.03" x2="295.2" y2="331.03" stroke="#000" stroke-width="1.1"/>
<line x1="310.74" y1="334.03" x2="310.74" y2="332.43" stroke="#000" stroke-width="1.1"/>
<line x1="326.27" y1="334.03" x2="326.27" y2="331.03" stroke="#000" stroke-width="1.1"/>
<line x1="341.81" y1="334.03" x2="341.81" y2="332.43" stroke="#000" stroke-width="1.1"/>
<line x1="357.35" y1="334.03" x2="357.35" y2="331.03" stroke="#000" stroke-width="1.1"/>
<line x1="372.89" y1="334.03" x2="372.89" y2="332.43" stroke="#000" stroke-width="1.1"/>
<line x1="388.42" y1="334.03" x2="388.42" y2="331.03" stroke="#000" stroke-width="1.1"/>
<line x1="403.96" y1="334.03" x2="403.96" y2="332.43" stroke="#000" stroke-width="1.1"/>
<line x1="419.5" y1="334.03" x2="419.5" y2="331.03" stroke="#000" stroke-width="1.1"/>
<line x1="435.04" y1="334.03" x2="435.04" y2="332.43" stroke="#000" stroke-width="1.1"/>
<line x1="450.57" y1="334.03" x2="450.57" y2="331.03" stroke="#000" stroke-width="1.1"/>
<line x1="466.11" y1="334.03" x2="466.11" y2="332.43" stroke="#000" stroke-width="1.1"/>
<line x1="481.65" y1="334.03" x2="481.65" y2="331.03" stroke="#000" stroke-width="1.1"/>
<line x1="497.19" y1="334.03" x2="497.19" y2="332.43" stroke="#000" stroke-width="1.1"/>
<line x1="512.72" y1="334.03" x2="512.72" y2="331.03" stroke="#000" stroke-width="1.1"/>
<line x1="528.26" y1="334.03" x2="528.26" y2="332.43" stroke="#000" stroke-width="1.1"/>
<line x1="543.8" y1="334.03" x2="543.8" y2="331.03" stroke="#000" stroke-width="1.1"/>
<line x1="295.9" y1="392.13" x2="543.1" y2="392.13" stroke="#14148c" stroke-width="1.6"/>
<line x1="295.2" y1="392.13" x2="295.2" y2="389.13" stroke="#000" stroke-width="1.1"/>
<line x1="310.74" y1="392.13" x2="310.74" y2="390.53" stroke="#000" stroke-width="1.1"/>
<line x1="326.27" y1="392.13" x2="326.27" y2="389.13" stroke="#000" stroke-width="1.1"/>
<line x1="341.81" y1="392.13" x2="341.81" y2="390.53" stroke="#000" stroke-width="1.1"/>
<line x1="357.35" y1="392.13" x2="357.35" y2="389.13" stroke="#000" stroke-width="1.1"/>
<line x1="372.89" y1="392.13" x2="372.89" y2="390.53" stroke="#000" stroke-width="1.1"/>
<line x1="388.42" y1="392.13" x2="388.42" y2="389.13" stroke="#000" stroke-width="1.1"/>
<line x1="403.96" y1="392.13" x2="403.96" y2="390.53" stroke="#000" stroke-width="1.1"/>
<line x1="419.5" y1="392.13" x2="419.5" y2="389.13" stroke="#000" stroke-width="1.1"/>
<line x1="435.04" y1="392.13" x2="435.04" y2="390.53" stroke="#000" stroke-width="1.1"/>
<line x1="450.57" y1="392.13" x2="450.57" y2="389.13" stroke="#000" stroke-width="1.1"/>
<line x1="466.11" y1="392.13" x2="466.11" y2="390.53" stroke="#000" stroke-width="1.1"/>
<line x1="481.65" y1="392.13" x2="481.65" y2="389.13" stroke="#000" stroke-width="1.1"/>
<line x1="497.19" y1="392.13" x2="497.19" y2="390.53" stroke="#000" stroke-width="1.1"/>
<line x1="512.72" y1="392.13" x2="512.72" y2="389.13" stroke="#000" stroke-width="1.1"/>
<line x1="528.26" y1="392.13" x2="528.26" y2="390.53" stroke="#000" stroke-width="1.1"/>
<line x1="543.8" y1="392.13" x2="543.8" y2="389.13" stroke="#000" stroke-width="1.1"/>
<line x1="419.5" y1="217.9" x2="419.5" y2="392.3" stroke="#000" stroke-width="1.2" stroke-dasharray="1.6,1.6"/>
<text x="294.9" y="403.6" font-size="8.6" text-anchor="middle" >-8</text>
<text x="325.97" y="403.6" font-size="8.6" text-anchor="middle" >-6</text>
<text x="357.05" y="403.6" font-size="8.6" text-anchor="middle" >-4</text>
<text x="388.12" y="403.6" font-size="8.6" text-anchor="middle" >-2</text>
<text x="419.5" y="403.6" font-size="8.6" text-anchor="middle" >0</text>
<text x="450.57" y="403.6" font-size="8.6" text-anchor="middle" >2</text>
<text x="481.65" y="403.6" font-size="8.6" text-anchor="middle" >4</text>
<text x="512.72" y="403.6" font-size="8.6" text-anchor="middle" >6</text>
<text x="543.8" y="403.6" font-size="8.6" text-anchor="middle" >8</text>
<text x="420" y="415.8" font-size="10.6" text-anchor="middle" >Energy (eV)</text>
<text x="0" y="0" font-size="10.7" text-anchor="middle" transform="translate(278.4,305.1) rotate(-90)">Density of state (eV/electron)</text>
<text x="300.6" y="229.4" font-size="9.5" text-anchor="start" >(d)</text>
<text x="301" y="287.2" font-size="9.8" text-anchor="start" >(e)</text>
<text x="301.6" y="344.7" font-size="9.6" text-anchor="start" >(f)</text>
<text x="422" y="227.6" font-size="8.9" text-anchor="start" >strain = -8%</text>
<text x="422" y="285.6" font-size="9.1" text-anchor="start" >strain = 0%</text>
<text x="422" y="343.8" font-size="9.1" text-anchor="start" >strain = 8%</text>
<text x="493.6" y="230.6" font-size="9.2" text-anchor="start">BiOBr<tspan font-size="5.7" dy="2.0">0.5</tspan><tspan dy="-2.0">I</tspan><tspan font-size="5.7" dy="2.0">0.5</tspan></text>
<line x1="505.8" y1="247.3" x2="522.2" y2="247.3" stroke="#ff00ff" stroke-width="1.3"/>
<text x="526" y="250.3" font-size="8.6" text-anchor="start" >Bi-s</text>
<line x1="505.8" y1="257.6" x2="522.2" y2="257.6" stroke="#ff1a1a" stroke-width="1.3"/>
<text x="526" y="260.6" font-size="8.6" text-anchor="start" >Bi-p</text>
<line x1="505.8" y1="267.9" x2="522.2" y2="267.9" stroke="#a8645a" stroke-width="1.3"/>
<text x="526" y="270.9" font-size="8.6" text-anchor="start" >Br-s</text>
<line x1="505.8" y1="281.8" x2="522.2" y2="281.8" stroke="#7fb13a" stroke-width="1.3"/>
<text x="526" y="284.8" font-size="8.6" text-anchor="start" >Br-p</text>
<line x1="505.8" y1="291.9" x2="522.2" y2="291.9" stroke="#a35cff" stroke-width="1.3"/>
<text x="526" y="294.9" font-size="8.6" text-anchor="start" >I-s</text>
<line x1="505.8" y1="302.2" x2="522.2" y2="302.2" stroke="#d9a21c" stroke-width="1.3"/>
<text x="526" y="305.2" font-size="8.6" text-anchor="start" >I-p</text>
<line x1="505.8" y1="312.4" x2="522.2" y2="312.4" stroke="#33bbee" stroke-width="1.3"/>
<text x="526" y="315.4" font-size="8.6" text-anchor="start" >O-s</text>
<line x1="505.8" y1="322.6" x2="522.2" y2="322.6" stroke="#1a1aee" stroke-width="1.3"/>
<text x="526" y="325.6" font-size="8.6" text-anchor="start" >O-p</text>
</svg></body></html>
